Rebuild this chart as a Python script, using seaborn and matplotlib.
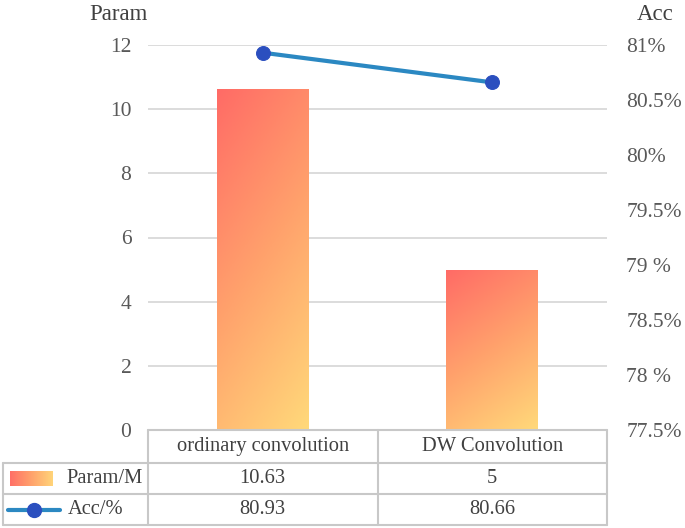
import numpy as np
import pandas as pd
import seaborn as sns
import matplotlib.pyplot as plt
from matplotlib.colors import LinearSegmentedColormap
from matplotlib.lines import Line2D

categories = ['ordinary convolution', 'DW Convolution']
param_vals = [10.63, 5]
acc_vals = [80.93, 80.66]
param_label = 'Param/M'
acc_label = 'Acc/%'
left_ticks = [0, 2, 4, 6, 8, 10, 12]
right_ticks = [77.5, 78, 78.5, 79, 79.5, 80, 80.5, 81]
right_ticklabels = ['77.5%', '78 %', '78.5%', '79 %', '79.5%', '80%', '80.5%', '81%']

sns.set_style('white')
plt.rcParams['font.family'] = ['Liberation Serif', 'DejaVu Serif']

df = pd.DataFrame({'cat': categories, 'param': param_vals, 'acc': acc_vals})
df['pos'] = df.index

W, H = 685, 528
fig = plt.figure(figsize=(W / 100, H / 100), dpi=100)
ax = fig.add_axes([148 / W, 98 / H, 459 / W, 385 / H])

sns.barplot(data=df, x='cat', y='param', width=0.4, ax=ax, color='#FFA36B', zorder=2)

# gradient fill for the bars (top-left red -> bottom-right yellow)
grad_cmap = LinearSegmentedColormap.from_list('g', ['#FF6B66', '#FFA26C', '#FFD97A'])
yy, xx = np.mgrid[0:1:200j, 0:1:50j]
grad = 0.72 * yy + 0.28 * xx
for p in ax.patches:
    x0, y0, w, h = p.get_x(), p.get_y(), p.get_width(), p.get_height()
    im = ax.imshow(grad, cmap=grad_cmap, vmin=0, vmax=1, extent=[x0, x0 + w, y0, y0 + h],
                   origin='upper', aspect='auto', zorder=2)
    im.set_clip_path(p)
    p.set_facecolor('none')
    p.set_edgecolor('none')

ax.set_xlim(-0.5, 1.5)
ax.set_ylim(0, 12)
ax.set_yticks(left_ticks)
ax.set_xticks([])
ax.set_xlabel('')
ax.set_ylabel('')
ax.grid(axis='y', color='#D9D9D9', lw=1.3)
ax.set_axisbelow(True)
ax.tick_params(axis='y', length=0, pad=12, labelsize=15.5, labelcolor='#595959')
sns.despine(ax=ax, left=True, bottom=True)

ax2 = ax.twinx()
sns.lineplot(data=df, x='pos', y='acc', ax=ax2, color='#2B88C2', lw=3,
             marker='o', markersize=10, markerfacecolor='#2B4FBF', markeredgecolor='#2B4FBF', zorder=3)
ax2.set_ylim(77.5, 81)
ax2.set_yticks(right_ticks)
ax2.set_yticklabels(right_ticklabels)
ax2.set_xlabel('')
ax2.set_ylabel('')
ax2.tick_params(axis='y', length=0, pad=14, labelsize=15.5, labelcolor='#595959')
for s in ax2.spines.values():
    s.set_visible(False)
ax.set_xlim(-0.5, 1.5)

fig.text(118 / W, 1 - 14 / H, 'Param', ha='center', va='center', fontsize=16.5, color='#404040')
fig.text(655 / W, 1 - 14 / H, 'Acc', ha='center', va='center', fontsize=16.5, color='#404040')

# data table under the plot
tc = '#C8C8C8'
rows = [0, -33 / 385, -64 / 385, -95 / 385]
leg_left = -145 / 459
xt = ax.get_xaxis_transform()
ax.add_line(Line2D([0, 1], [rows[0]] * 2, transform=ax.transAxes, color=tc, lw=1.5, clip_on=False))
for r in rows[1:]:
    ax.add_line(Line2D([leg_left, 1], [r] * 2, transform=ax.transAxes, color=tc, lw=1.5, clip_on=False))
for xv in [-0.5, 0.5, 1.5]:
    ax.add_line(Line2D([xv, xv], [rows[0], rows[3]], transform=xt, color=tc, lw=1.5, clip_on=False))
ax.add_line(Line2D([leg_left] * 2, [rows[1], rows[3]], transform=ax.transAxes, color=tc, lw=1.5, clip_on=False))

tk = dict(ha='center', va='center', fontsize=14.8, color='#404040', transform=xt, clip_on=False)
for i, cat in enumerate(categories):
    ax.text(i, (rows[0] + rows[1]) / 2, cat, **tk)
    ax.text(i, (rows[1] + rows[2]) / 2, f'{param_vals[i]:g}', **tk)
    ax.text(i, (rows[2] + rows[3]) / 2, f'{acc_vals[i]:g}', **tk)

lk = dict(ha='left', va='center', fontsize=14.8, color='#404040', transform=ax.transAxes, clip_on=False)
ax.text(-82 / 459, (rows[1] + rows[2]) / 2, param_label, **lk)
ax.text(-80 / 459, (rows[2] + rows[3]) / 2, acc_label, **lk)

# legend keys
kax = fig.add_axes([10 / W, (H - 486) / H, 43 / W, 15 / H])
kax.imshow(np.linspace(0, 1, 50)[None, :] * 0.9 + 0.05, cmap=grad_cmap, vmin=0, vmax=1, aspect='auto')
kax.axis('off')
ly = (rows[2] + rows[3]) / 2
ax.add_line(Line2D([-140 / 459, -88 / 459], [ly, ly], transform=ax.transAxes, color='#2B88C2', lw=3, clip_on=False))
ax.add_line(Line2D([-114 / 459], [ly], transform=ax.transAxes, marker='o', markersize=10,
                   color='#2B4FBF', clip_on=False))

fig.savefig('out.png', dpi=100)
